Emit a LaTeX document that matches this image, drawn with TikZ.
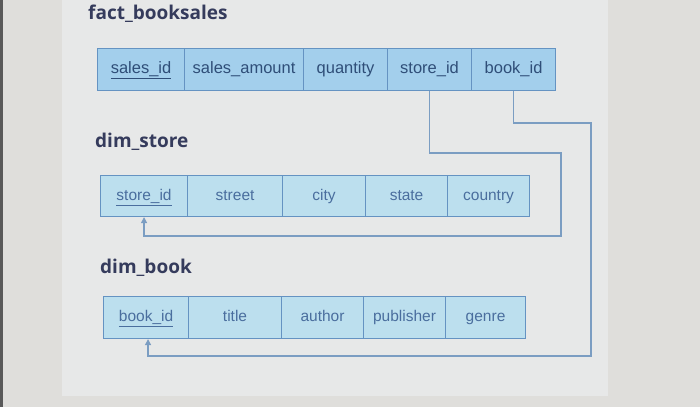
\documentclass[tikz,border=0pt]{standalone}
\usepackage{fontspec}
\setmainfont{Liberation Sans}
\newfontfamily\titlefont{Open Sans}
\usetikzlibrary{arrows.meta}
\definecolor{bgout}{HTML}{DFDEDB}
\definecolor{bgpanel}{HTML}{E7E8E8}
\definecolor{factfill}{HTML}{A3CFEC}
\definecolor{dimfill}{HTML}{BCDFEE}
\definecolor{boxline}{HTML}{6593C2}
\definecolor{linkline}{HTML}{7B9DC2}
\definecolor{facttext}{HTML}{2F4E78}
\definecolor{dimtext}{HTML}{4A6E9E}
\definecolor{titletext}{HTML}{353B5C}
\tikzset{
  cellbase/.style={draw=boxline, line width=1.1pt, inner sep=0pt, anchor=north west, text height=12pt, text depth=3.5pt},
  factcell/.style={cellbase, fill=factfill, minimum height=42pt, text=facttext, font=\fontsize{16.5}{18}\selectfont},
  dimcell/.style={cellbase, fill=dimfill, minimum height=41pt, text=dimtext, font=\fontsize{15.5}{18}\selectfont},
  tabtitle/.style={anchor=west, inner sep=0pt, text=titletext, font=\titlefont\bfseries\fontsize{19}{21}\selectfont},
  link/.style={draw=linkline, line width=1.2pt},
  linkarrow/.style={link, -{Triangle[length=6pt,width=6pt]}}
}
\begin{document}
\begin{tikzpicture}[x=1pt,y=-1pt]
\useasboundingbox (0,0) rectangle (700,407);
\fill[bgout] (0,0) rectangle (700,407);
\fill[bgpanel] (62,0) rectangle (608,396);
\fill[gray!70!black] (0,0) rectangle (2.5,407);

% titles
\node[tabtitle] (t1) at (88,14) {fact\_booksales};
\node[tabtitle] (t2) at (95,142) {dim\_store};
\node[tabtitle] (t3) at (100,268) {dim\_book};

% fact table
\node[factcell, minimum width=87pt]  (fsales) at (97,48)  {\underline{sales\_id}};
\node[factcell, minimum width=119pt] (famt)   at (184,48) {sales\_amount};
\node[factcell, minimum width=84pt]  (fqty)   at (303,48) {quantity};
\node[factcell, minimum width=84pt]  (fstore) at (387,48) {store\_id};
\node[factcell, minimum width=84pt]  (fbook)  at (471,48) {book\_id};

% dim_store
\node[dimcell, minimum width=87pt] (sid)      at (100,175) {\underline{store\_id}};
\node[dimcell, minimum width=95pt] (sstreet)  at (187,175) {street};
\node[dimcell, minimum width=83pt] (scity)    at (282,175) {city};
\node[dimcell, minimum width=82pt] (sstate)   at (365,175) {state};
\node[dimcell, minimum width=82pt] (scountry) at (447,175) {country};

% dim_book
\node[dimcell, minimum width=85pt, minimum height=42pt] (bid)    at (103,296) {\underline{book\_id}};
\node[dimcell, minimum width=93pt, minimum height=42pt] (btitle) at (188,296) {title};
\node[dimcell, minimum width=82pt, minimum height=42pt] (bauth)  at (281,296) {author};
\node[dimcell, minimum width=82pt, minimum height=42pt] (bpub)   at (363,296) {publisher};
\node[dimcell, minimum width=80pt, minimum height=42pt] (bgenre) at (445,296) {genre};

% connectors
\coordinate (s1) at (561,153);
\coordinate (s2) at (561,236);
\draw[linkarrow] (fstore.south) |- (s1) -- (s2) -| (sid.south);

\coordinate (b1) at (591,123);
\coordinate (b2) at (591,356);
\draw[linkarrow] (fbook.south) |- (b1) -- (b2) -| ([xshift=2pt]bid.south);
\end{tikzpicture}
\end{document}
